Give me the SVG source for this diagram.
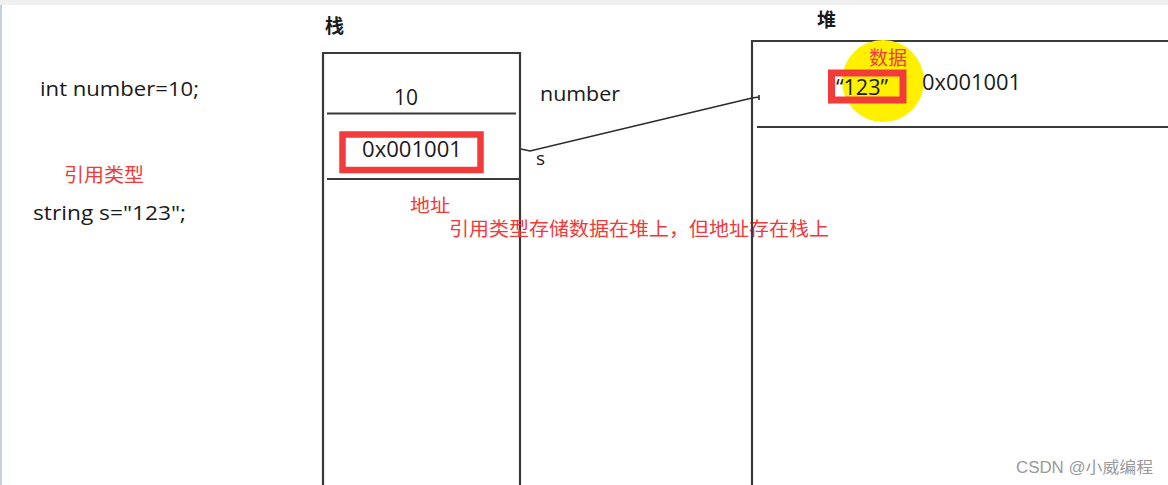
<svg xmlns="http://www.w3.org/2000/svg" width="1168" height="485" viewBox="0 0 1168 485">
<style>
.ln{stroke:#3a3a3a;stroke-width:2.2;fill:none}
.tx{font-family:"Open Sans","Liberation Sans","Noto Sans CJK SC",sans-serif;fill:#1a1a1a}
.cn{font-family:"Noto Sans CJK SC",sans-serif;fill:#1a1a1a;font-weight:bold}
.red{font-family:"Noto Sans CJK SC",sans-serif;fill:#f03a3a}
.rb{fill:none;stroke:#f23c3c}
.wm{font-family:"Liberation Sans","Noto Sans CJK SC",sans-serif;fill:#9a9a9a}
</style>
<rect x="0" y="0" width="1168" height="485" fill="#ffffff"/>
<rect x="0" y="0" width="1168" height="5" fill="#efefef"/>
<rect x="0" y="5" width="2" height="480" fill="#c5cfe0"/>

<g id="code">
<text class="tx" x="40" y="96" font-size="20" textLength="159" lengthAdjust="spacingAndGlyphs">int number=10;</text>
<text class="red" x="64" y="182" font-size="19" textLength="80" lengthAdjust="spacingAndGlyphs">引用类型</text>
<text class="tx" x="33" y="220" font-size="20" textLength="153" lengthAdjust="spacingAndGlyphs">string s="123";</text>
</g>

<g id="stack">
<text class="cn" x="325" y="33" font-size="19">栈</text>
<path class="ln" d="M323 485V53H520V485"/>
<line class="ln" x1="327" y1="113.5" x2="516" y2="113.5"/>
<line class="ln" x1="327" y1="179" x2="520" y2="179"/>
<text class="tx" x="406" y="105" font-size="21" text-anchor="middle">10</text>
<rect class="rb" x="342.5" y="134.5" width="138" height="35.5" stroke-width="6.5"/>
<text class="tx" x="412" y="157" font-size="21" text-anchor="middle" textLength="100" lengthAdjust="spacingAndGlyphs">0x001001</text>
</g>

<g id="labels">
<text class="tx" x="540" y="101" font-size="20" textLength="80" lengthAdjust="spacingAndGlyphs">number</text>
<text class="tx" x="536" y="165" font-size="19">s</text>
<text class="red" x="410" y="212" font-size="18" textLength="40" lengthAdjust="spacingAndGlyphs">地址</text>
<text class="red" x="449" y="236" font-size="19" textLength="380" lengthAdjust="spacingAndGlyphs">引用类型存储数据在堆上，但地址存在栈上</text>
</g>

<g id="heap">
<text class="cn" x="817" y="27" font-size="19">堆</text>
<path class="ln" d="M752 485V41H1168"/>
<line class="ln" x1="757" y1="127" x2="1168" y2="127"/>
<circle cx="883" cy="81" r="41" fill="#fff000"/>
<text class="red" x="888" y="65" font-size="19" text-anchor="middle">数据</text>
<rect class="rb" x="831.5" y="73" width="71.5" height="27" stroke-width="7"/>
<text class="tx" x="836" y="95" font-size="22" textLength="52" lengthAdjust="spacingAndGlyphs">“123”</text>
<text class="tx" x="922" y="90" font-size="21" textLength="99" lengthAdjust="spacingAndGlyphs">0x001001</text>
</g>

<g id="connectors">
<path d="M521 149L530 151L752 98L759 97M759 95V100" stroke="#2a2a2a" stroke-width="1.6" fill="none"/>
</g>

<text class="wm" x="1016" y="473" font-size="16" textLength="137" lengthAdjust="spacingAndGlyphs">CSDN @小威编程</text>
</svg>
